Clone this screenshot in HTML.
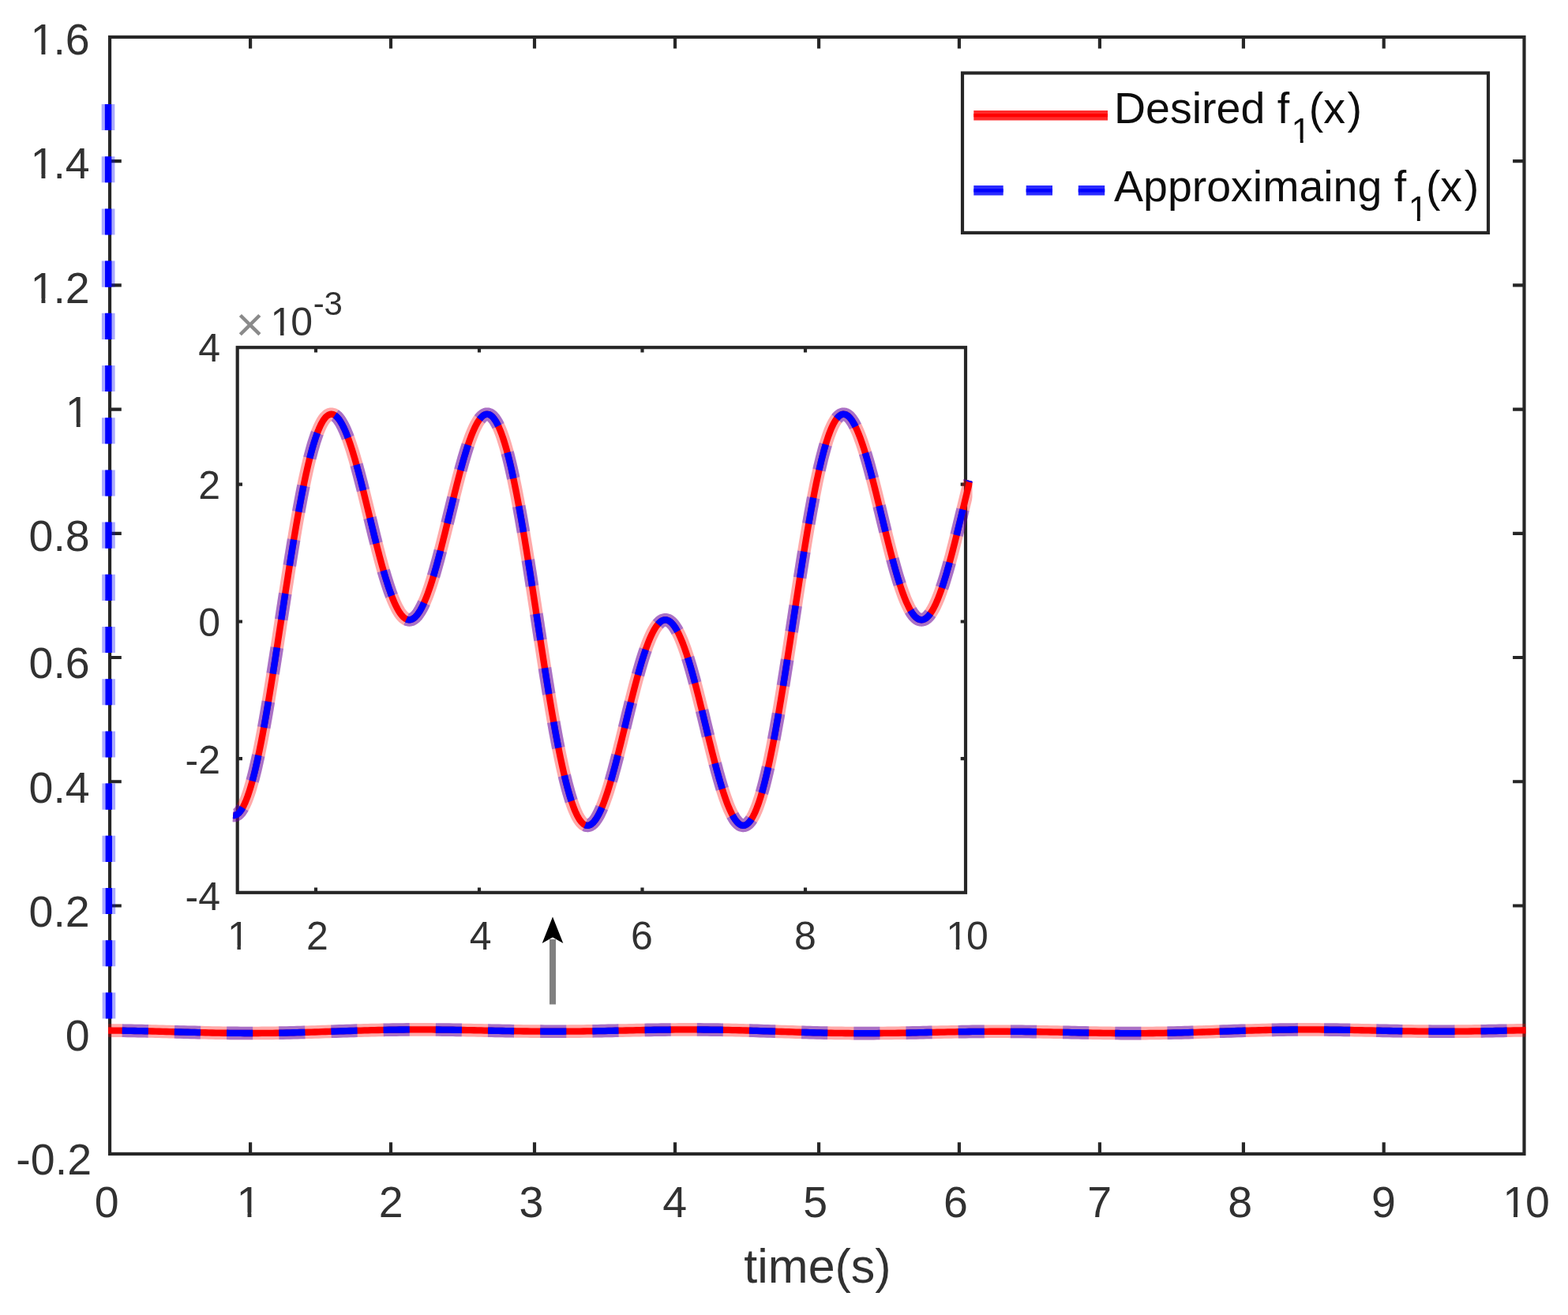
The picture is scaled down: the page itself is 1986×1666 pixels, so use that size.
<!DOCTYPE html>
<html lang="en"><head><meta charset="utf-8"><title>Desired vs approximating f1(x)</title>
<style>
html,body{margin:0;padding:0;background:#fff;overflow:hidden;}
body{width:1986px;height:1666px;overflow:hidden;}
svg{display:block;}
text{font-family:"Liberation Sans",Arial,Helvetica,sans-serif;}
.tk{font-size:55.5px;fill:#313131;}
.it{font-size:50px;fill:#313131;}
.lg{font-size:55.5px;fill:#0d0d0d;}
.xl{font-size:61px;fill:#313131;}
.c{fill:none;stroke-width:8.33;stroke-linejoin:round;}
.h{fill:none;stroke-width:16.67;stroke-linejoin:round;stroke-opacity:.333;}
</style></head><body>
<svg width="1986" height="1666" viewBox="0 0 1986 1666" role="img" aria-label="Desired and approximating f1(x) versus time">
<defs><clipPath id="ci"><rect x="294.5" y="440.2" width="937" height="690.6"/></clipPath>
<path id="pr" d="M137.15 1305.5 L143.53 1305.55 L148.01 1305.6 L152.49 1305.66 L156.96 1305.73 L161.44 1305.81 L165.92 1305.89 L170.4 1305.97 L174.88 1306.07 L179.36 1306.17 L183.84 1306.27 L188.31 1306.38 L192.79 1306.49 L197.27 1306.6 L201.75 1306.72 L206.23 1306.84 L210.71 1306.97 L215.19 1307.09 L219.67 1307.22 L224.14 1307.34 L228.62 1307.47 L233.1 1307.59 L237.58 1307.72 L242.06 1307.84 L246.54 1307.95 L251.02 1308.07 L255.49 1308.18 L259.97 1308.28 L264.45 1308.38 L268.93 1308.48 L273.41 1308.56 L277.89 1308.64 L282.37 1308.72 L286.84 1308.78 L291.32 1308.84 L295.8 1308.89 L300.28 1308.93 L304.76 1308.96 L309.24 1308.98 L313.72 1308.99 L318.2 1308.99 L322.67 1308.98 L327.15 1308.97 L331.63 1308.94 L336.11 1308.9 L340.59 1308.85 L345.07 1308.8 L349.55 1308.73 L354.02 1308.65 L358.5 1308.57 L362.98 1308.48 L367.46 1308.37 L371.94 1308.27 L376.42 1308.15 L380.9 1308.03 L385.37 1307.9 L389.85 1307.76 L394.33 1307.62 L398.81 1307.48 L403.29 1307.33 L407.77 1307.18 L412.25 1307.03 L416.72 1306.88 L421.2 1306.72 L425.68 1306.57 L430.16 1306.42 L434.64 1306.27 L439.12 1306.12 L443.6 1305.97 L448.08 1305.83 L452.55 1305.69 L457.03 1305.56 L461.51 1305.43 L465.99 1305.31 L470.47 1305.19 L474.95 1305.08 L479.43 1304.98 L483.9 1304.88 L488.38 1304.79 L492.86 1304.71 L497.34 1304.64 L501.82 1304.58 L506.3 1304.53 L510.78 1304.48 L515.25 1304.45 L519.73 1304.42 L524.21 1304.4 L528.69 1304.39 L533.17 1304.39 L537.65 1304.4 L542.13 1304.42 L546.6 1304.45 L551.08 1304.48 L555.56 1304.52 L560.04 1304.57 L564.52 1304.63 L569 1304.69 L573.48 1304.76 L577.96 1304.83 L582.43 1304.91 L586.91 1304.99 L591.39 1305.08 L595.87 1305.17 L600.35 1305.26 L604.83 1305.35 L609.31 1305.45 L613.78 1305.55 L618.26 1305.64 L622.74 1305.74 L627.22 1305.83 L631.7 1305.93 L636.18 1306.02 L640.66 1306.1 L645.13 1306.19 L649.61 1306.27 L654.09 1306.34 L658.57 1306.41 L663.05 1306.47 L667.53 1306.53 L672.01 1306.58 L676.49 1306.63 L680.96 1306.67 L685.44 1306.7 L689.92 1306.72 L694.4 1306.74 L698.88 1306.75 L703.36 1306.75 L707.84 1306.74 L712.31 1306.73 L716.79 1306.71 L721.27 1306.68 L725.75 1306.64 L730.23 1306.6 L734.71 1306.55 L739.19 1306.49 L743.66 1306.43 L748.14 1306.36 L752.62 1306.29 L757.1 1306.21 L761.58 1306.13 L766.06 1306.04 L770.54 1305.95 L775.01 1305.86 L779.49 1305.77 L783.97 1305.67 L788.45 1305.58 L792.93 1305.48 L797.41 1305.39 L801.89 1305.29 L806.37 1305.2 L810.84 1305.11 L815.32 1305.02 L819.8 1304.94 L824.28 1304.86 L828.76 1304.78 L833.24 1304.71 L837.72 1304.65 L842.19 1304.59 L846.67 1304.54 L851.15 1304.49 L855.63 1304.46 L860.11 1304.43 L864.59 1304.41 L869.07 1304.4 L873.54 1304.39 L878.02 1304.4 L882.5 1304.41 L886.98 1304.44 L891.46 1304.47 L895.94 1304.51 L900.42 1304.56 L904.89 1304.62 L909.37 1304.69 L913.85 1304.77 L918.33 1304.85 L922.81 1304.94 L927.29 1305.04 L931.77 1305.15 L936.25 1305.27 L940.72 1305.39 L945.2 1305.52 L949.68 1305.65 L954.16 1305.79 L958.64 1305.93 L963.12 1306.07 L967.6 1306.22 L972.07 1306.37 L976.55 1306.52 L981.03 1306.67 L985.51 1306.83 L989.99 1306.98 L994.47 1307.13 L998.95 1307.28 L1003.42 1307.43 L1007.9 1307.57 L1012.38 1307.72 L1016.86 1307.85 L1021.34 1307.99 L1025.82 1308.11 L1030.3 1308.23 L1034.78 1308.35 L1039.25 1308.46 L1043.73 1308.56 L1048.21 1308.65 L1052.69 1308.73 L1057.17 1308.81 L1061.65 1308.88 L1066.13 1308.94 L1070.6 1308.99 L1075.08 1309.03 L1079.56 1309.06 L1084.04 1309.09 L1088.52 1309.1 L1093 1309.11 L1097.48 1309.1 L1101.95 1309.09 L1106.43 1309.07 L1110.91 1309.04 L1115.39 1309.01 L1119.87 1308.96 L1124.35 1308.91 L1128.83 1308.85 L1133.3 1308.79 L1137.78 1308.72 L1142.26 1308.64 L1146.74 1308.56 L1151.22 1308.48 L1155.7 1308.39 L1160.18 1308.3 L1164.66 1308.21 L1169.13 1308.11 L1173.61 1308.02 L1178.09 1307.92 L1182.57 1307.83 L1187.05 1307.73 L1191.53 1307.64 L1196.01 1307.54 L1200.48 1307.46 L1204.96 1307.37 L1209.44 1307.29 L1213.92 1307.21 L1218.4 1307.14 L1222.88 1307.07 L1227.36 1307.01 L1231.83 1306.95 L1236.31 1306.9 L1240.79 1306.86 L1245.27 1306.82 L1249.75 1306.79 L1254.23 1306.77 L1258.71 1306.76 L1263.18 1306.75 L1267.66 1306.75 L1272.14 1306.76 L1276.62 1306.78 L1281.1 1306.8 L1285.58 1306.83 L1290.06 1306.87 L1294.54 1306.92 L1299.01 1306.97 L1303.49 1307.03 L1307.97 1307.09 L1312.45 1307.16 L1316.93 1307.24 L1321.41 1307.32 L1325.89 1307.4 L1330.36 1307.49 L1334.84 1307.58 L1339.32 1307.67 L1343.8 1307.76 L1348.28 1307.86 L1352.76 1307.95 L1357.24 1308.05 L1361.71 1308.15 L1366.19 1308.24 L1370.67 1308.33 L1375.15 1308.42 L1379.63 1308.51 L1384.11 1308.59 L1388.59 1308.67 L1393.06 1308.74 L1397.54 1308.81 L1402.02 1308.87 L1406.5 1308.93 L1410.98 1308.98 L1415.46 1309.02 L1419.94 1309.05 L1424.42 1309.08 L1428.89 1309.1 L1433.37 1309.11 L1437.85 1309.11 L1442.33 1309.1 L1446.81 1309.08 L1451.29 1309.05 L1455.77 1309.02 L1460.24 1308.97 L1464.72 1308.92 L1469.2 1308.86 L1473.68 1308.79 L1478.16 1308.71 L1482.64 1308.62 L1487.12 1308.52 L1491.59 1308.42 L1496.07 1308.31 L1500.55 1308.19 L1505.03 1308.07 L1509.51 1307.94 L1513.99 1307.81 L1518.47 1307.67 L1522.95 1307.53 L1527.42 1307.38 L1531.9 1307.23 L1536.38 1307.08 L1540.86 1306.93 L1545.34 1306.77 L1549.82 1306.62 L1554.3 1306.47 L1558.77 1306.32 L1563.25 1306.17 L1567.73 1306.02 L1572.21 1305.88 L1576.69 1305.74 L1581.17 1305.6 L1585.65 1305.47 L1590.12 1305.35 L1594.6 1305.23 L1599.08 1305.11 L1603.56 1305.01 L1608.04 1304.91 L1612.52 1304.82 L1617 1304.74 L1621.47 1304.66 L1625.95 1304.6 L1630.43 1304.54 L1634.91 1304.49 L1639.39 1304.46 L1643.87 1304.43 L1648.35 1304.41 L1652.83 1304.39 L1657.3 1304.39 L1661.78 1304.4 L1666.26 1304.41 L1670.74 1304.44 L1675.22 1304.47 L1679.7 1304.51 L1684.18 1304.55 L1688.65 1304.61 L1693.13 1304.67 L1697.61 1304.73 L1702.09 1304.81 L1706.57 1304.88 L1711.05 1304.96 L1715.53 1305.05 L1720 1305.14 L1724.48 1305.23 L1728.96 1305.32 L1733.44 1305.42 L1737.92 1305.51 L1742.4 1305.61 L1746.88 1305.71 L1751.36 1305.8 L1755.83 1305.9 L1760.31 1305.99 L1764.79 1306.07 L1769.27 1306.16 L1773.75 1306.24 L1778.23 1306.32 L1782.71 1306.39 L1787.18 1306.45 L1791.66 1306.51 L1796.14 1306.57 L1800.62 1306.62 L1805.1 1306.66 L1809.58 1306.69 L1814.06 1306.72 L1818.53 1306.73 L1823.01 1306.75 L1827.49 1306.75 L1831.97 1306.75 L1836.45 1306.73 L1840.93 1306.72 L1845.41 1306.69 L1849.88 1306.66 L1854.36 1306.61 L1858.84 1306.57 L1863.32 1306.51 L1867.8 1306.45 L1872.28 1306.39 L1876.76 1306.31 L1881.24 1306.24 L1885.71 1306.16 L1890.19 1306.07 L1894.67 1305.98 L1899.15 1305.89 L1903.63 1305.8 L1908.11 1305.71 L1912.59 1305.61 L1917.06 1305.51 L1921.54 1305.42 L1926.02 1305.32 L1932.5 1305.23"/>
<path id="pb" d="M137 132 L138 1306.75 L143.53 1305.55 L148.01 1305.6 L152.49 1305.66 L156.96 1305.73 L161.44 1305.81 L165.92 1305.89 L170.4 1305.97 L174.88 1306.07 L179.36 1306.17 L183.84 1306.27 L188.31 1306.38 L192.79 1306.49 L197.27 1306.6 L201.75 1306.72 L206.23 1306.84 L210.71 1306.97 L215.19 1307.09 L219.67 1307.22 L224.14 1307.34 L228.62 1307.47 L233.1 1307.59 L237.58 1307.72 L242.06 1307.84 L246.54 1307.95 L251.02 1308.07 L255.49 1308.18 L259.97 1308.28 L264.45 1308.38 L268.93 1308.48 L273.41 1308.56 L277.89 1308.64 L282.37 1308.72 L286.84 1308.78 L291.32 1308.84 L295.8 1308.89 L300.28 1308.93 L304.76 1308.96 L309.24 1308.98 L313.72 1308.99 L318.2 1308.99 L322.67 1308.98 L327.15 1308.97 L331.63 1308.94 L336.11 1308.9 L340.59 1308.85 L345.07 1308.8 L349.55 1308.73 L354.02 1308.65 L358.5 1308.57 L362.98 1308.48 L367.46 1308.37 L371.94 1308.27 L376.42 1308.15 L380.9 1308.03 L385.37 1307.9 L389.85 1307.76 L394.33 1307.62 L398.81 1307.48 L403.29 1307.33 L407.77 1307.18 L412.25 1307.03 L416.72 1306.88 L421.2 1306.72 L425.68 1306.57 L430.16 1306.42 L434.64 1306.27 L439.12 1306.12 L443.6 1305.97 L448.08 1305.83 L452.55 1305.69 L457.03 1305.56 L461.51 1305.43 L465.99 1305.31 L470.47 1305.19 L474.95 1305.08 L479.43 1304.98 L483.9 1304.88 L488.38 1304.79 L492.86 1304.71 L497.34 1304.64 L501.82 1304.58 L506.3 1304.53 L510.78 1304.48 L515.25 1304.45 L519.73 1304.42 L524.21 1304.4 L528.69 1304.39 L533.17 1304.39 L537.65 1304.4 L542.13 1304.42 L546.6 1304.45 L551.08 1304.48 L555.56 1304.52 L560.04 1304.57 L564.52 1304.63 L569 1304.69 L573.48 1304.76 L577.96 1304.83 L582.43 1304.91 L586.91 1304.99 L591.39 1305.08 L595.87 1305.17 L600.35 1305.26 L604.83 1305.35 L609.31 1305.45 L613.78 1305.55 L618.26 1305.64 L622.74 1305.74 L627.22 1305.83 L631.7 1305.93 L636.18 1306.02 L640.66 1306.1 L645.13 1306.19 L649.61 1306.27 L654.09 1306.34 L658.57 1306.41 L663.05 1306.47 L667.53 1306.53 L672.01 1306.58 L676.49 1306.63 L680.96 1306.67 L685.44 1306.7 L689.92 1306.72 L694.4 1306.74 L698.88 1306.75 L703.36 1306.75 L707.84 1306.74 L712.31 1306.73 L716.79 1306.71 L721.27 1306.68 L725.75 1306.64 L730.23 1306.6 L734.71 1306.55 L739.19 1306.49 L743.66 1306.43 L748.14 1306.36 L752.62 1306.29 L757.1 1306.21 L761.58 1306.13 L766.06 1306.04 L770.54 1305.95 L775.01 1305.86 L779.49 1305.77 L783.97 1305.67 L788.45 1305.58 L792.93 1305.48 L797.41 1305.39 L801.89 1305.29 L806.37 1305.2 L810.84 1305.11 L815.32 1305.02 L819.8 1304.94 L824.28 1304.86 L828.76 1304.78 L833.24 1304.71 L837.72 1304.65 L842.19 1304.59 L846.67 1304.54 L851.15 1304.49 L855.63 1304.46 L860.11 1304.43 L864.59 1304.41 L869.07 1304.4 L873.54 1304.39 L878.02 1304.4 L882.5 1304.41 L886.98 1304.44 L891.46 1304.47 L895.94 1304.51 L900.42 1304.56 L904.89 1304.62 L909.37 1304.69 L913.85 1304.77 L918.33 1304.85 L922.81 1304.94 L927.29 1305.04 L931.77 1305.15 L936.25 1305.27 L940.72 1305.39 L945.2 1305.52 L949.68 1305.65 L954.16 1305.79 L958.64 1305.93 L963.12 1306.07 L967.6 1306.22 L972.07 1306.37 L976.55 1306.52 L981.03 1306.67 L985.51 1306.83 L989.99 1306.98 L994.47 1307.13 L998.95 1307.28 L1003.42 1307.43 L1007.9 1307.57 L1012.38 1307.72 L1016.86 1307.85 L1021.34 1307.99 L1025.82 1308.11 L1030.3 1308.23 L1034.78 1308.35 L1039.25 1308.46 L1043.73 1308.56 L1048.21 1308.65 L1052.69 1308.73 L1057.17 1308.81 L1061.65 1308.88 L1066.13 1308.94 L1070.6 1308.99 L1075.08 1309.03 L1079.56 1309.06 L1084.04 1309.09 L1088.52 1309.1 L1093 1309.11 L1097.48 1309.1 L1101.95 1309.09 L1106.43 1309.07 L1110.91 1309.04 L1115.39 1309.01 L1119.87 1308.96 L1124.35 1308.91 L1128.83 1308.85 L1133.3 1308.79 L1137.78 1308.72 L1142.26 1308.64 L1146.74 1308.56 L1151.22 1308.48 L1155.7 1308.39 L1160.18 1308.3 L1164.66 1308.21 L1169.13 1308.11 L1173.61 1308.02 L1178.09 1307.92 L1182.57 1307.83 L1187.05 1307.73 L1191.53 1307.64 L1196.01 1307.54 L1200.48 1307.46 L1204.96 1307.37 L1209.44 1307.29 L1213.92 1307.21 L1218.4 1307.14 L1222.88 1307.07 L1227.36 1307.01 L1231.83 1306.95 L1236.31 1306.9 L1240.79 1306.86 L1245.27 1306.82 L1249.75 1306.79 L1254.23 1306.77 L1258.71 1306.76 L1263.18 1306.75 L1267.66 1306.75 L1272.14 1306.76 L1276.62 1306.78 L1281.1 1306.8 L1285.58 1306.83 L1290.06 1306.87 L1294.54 1306.92 L1299.01 1306.97 L1303.49 1307.03 L1307.97 1307.09 L1312.45 1307.16 L1316.93 1307.24 L1321.41 1307.32 L1325.89 1307.4 L1330.36 1307.49 L1334.84 1307.58 L1339.32 1307.67 L1343.8 1307.76 L1348.28 1307.86 L1352.76 1307.95 L1357.24 1308.05 L1361.71 1308.15 L1366.19 1308.24 L1370.67 1308.33 L1375.15 1308.42 L1379.63 1308.51 L1384.11 1308.59 L1388.59 1308.67 L1393.06 1308.74 L1397.54 1308.81 L1402.02 1308.87 L1406.5 1308.93 L1410.98 1308.98 L1415.46 1309.02 L1419.94 1309.05 L1424.42 1309.08 L1428.89 1309.1 L1433.37 1309.11 L1437.85 1309.11 L1442.33 1309.1 L1446.81 1309.08 L1451.29 1309.05 L1455.77 1309.02 L1460.24 1308.97 L1464.72 1308.92 L1469.2 1308.86 L1473.68 1308.79 L1478.16 1308.71 L1482.64 1308.62 L1487.12 1308.52 L1491.59 1308.42 L1496.07 1308.31 L1500.55 1308.19 L1505.03 1308.07 L1509.51 1307.94 L1513.99 1307.81 L1518.47 1307.67 L1522.95 1307.53 L1527.42 1307.38 L1531.9 1307.23 L1536.38 1307.08 L1540.86 1306.93 L1545.34 1306.77 L1549.82 1306.62 L1554.3 1306.47 L1558.77 1306.32 L1563.25 1306.17 L1567.73 1306.02 L1572.21 1305.88 L1576.69 1305.74 L1581.17 1305.6 L1585.65 1305.47 L1590.12 1305.35 L1594.6 1305.23 L1599.08 1305.11 L1603.56 1305.01 L1608.04 1304.91 L1612.52 1304.82 L1617 1304.74 L1621.47 1304.66 L1625.95 1304.6 L1630.43 1304.54 L1634.91 1304.49 L1639.39 1304.46 L1643.87 1304.43 L1648.35 1304.41 L1652.83 1304.39 L1657.3 1304.39 L1661.78 1304.4 L1666.26 1304.41 L1670.74 1304.44 L1675.22 1304.47 L1679.7 1304.51 L1684.18 1304.55 L1688.65 1304.61 L1693.13 1304.67 L1697.61 1304.73 L1702.09 1304.81 L1706.57 1304.88 L1711.05 1304.96 L1715.53 1305.05 L1720 1305.14 L1724.48 1305.23 L1728.96 1305.32 L1733.44 1305.42 L1737.92 1305.51 L1742.4 1305.61 L1746.88 1305.71 L1751.36 1305.8 L1755.83 1305.9 L1760.31 1305.99 L1764.79 1306.07 L1769.27 1306.16 L1773.75 1306.24 L1778.23 1306.32 L1782.71 1306.39 L1787.18 1306.45 L1791.66 1306.51 L1796.14 1306.57 L1800.62 1306.62 L1805.1 1306.66 L1809.58 1306.69 L1814.06 1306.72 L1818.53 1306.73 L1823.01 1306.75 L1827.49 1306.75 L1831.97 1306.75 L1836.45 1306.73 L1840.93 1306.72 L1845.41 1306.69 L1849.88 1306.66 L1854.36 1306.61 L1858.84 1306.57 L1863.32 1306.51 L1867.8 1306.45 L1872.28 1306.39 L1876.76 1306.31 L1881.24 1306.24 L1885.71 1306.16 L1890.19 1306.07 L1894.67 1305.98 L1899.15 1305.89 L1903.63 1305.8 L1908.11 1305.71 L1912.59 1305.61 L1917.06 1305.51 L1921.54 1305.42 L1926.02 1305.32 L1932.5 1305.23"/>
<path id="pi" d="M295.19 1032.92 L296.22 1033.04 L297.26 1032.98 L298.3 1032.75 L299.33 1032.34 L300.37 1031.76 L301.41 1030.99 L302.44 1030.06 L303.48 1028.94 L304.52 1027.65 L305.56 1026.18 L306.59 1024.54 L307.63 1022.72 L308.67 1020.73 L309.7 1018.57 L310.74 1016.24 L311.78 1013.73 L312.82 1011.06 L313.85 1008.22 L314.89 1005.21 L315.93 1002.04 L316.96 998.71 L318 995.21 L319.04 991.56 L320.08 987.75 L321.11 983.79 L322.15 979.68 L323.19 975.42 L324.22 971.02 L325.26 966.47 L326.3 961.78 L327.33 956.96 L328.37 952.01 L329.41 946.92 L330.45 941.71 L331.48 936.37 L332.52 930.92 L333.56 925.35 L334.59 919.66 L335.63 913.87 L336.67 907.98 L337.71 901.98 L338.74 895.89 L339.78 889.72 L340.82 883.48 L341.85 877.16 L342.89 870.78 L343.93 864.34 L344.97 857.85 L346 851.3 L347.04 844.71 L348.08 838.08 L349.11 831.41 L350.15 824.7 L351.19 817.97 L352.22 811.22 L353.26 804.44 L354.3 797.66 L355.34 790.86 L356.37 784.06 L357.41 777.27 L358.45 770.47 L359.48 763.69 L360.52 756.92 L361.56 750.18 L362.6 743.46 L363.63 736.76 L364.67 730.11 L365.71 723.49 L366.74 716.91 L367.78 710.38 L368.82 703.91 L369.86 697.49 L370.89 691.14 L371.93 684.85 L372.97 678.63 L374 672.48 L375.04 666.42 L376.08 660.43 L377.12 654.54 L378.15 648.73 L379.19 643.03 L380.23 637.42 L381.26 631.91 L382.3 626.51 L383.34 621.22 L384.37 616.04 L385.41 610.98 L386.45 606.04 L387.49 601.22 L388.52 596.53 L389.56 591.97 L390.6 587.54 L391.63 583.25 L392.67 579.09 L393.71 575.07 L394.75 571.2 L395.78 567.47 L396.82 563.89 L397.86 560.45 L398.89 557.17 L399.93 554.04 L400.97 551.06 L402.01 548.24 L403.04 545.57 L404.08 543.06 L405.12 540.71 L406.15 538.52 L407.19 536.49 L408.23 534.62 L409.26 532.92 L410.3 531.37 L411.34 529.99 L412.38 528.77 L413.41 527.71 L414.45 526.82 L415.49 526.08 L416.52 525.51 L417.56 525.1 L418.6 524.84 L419.64 524.75 L420.67 524.81 L421.71 525.04 L422.75 525.41 L423.78 525.94 L424.82 526.62 L425.86 527.46 L426.9 528.44 L427.93 529.57 L428.97 530.84 L430.01 532.25 L431.04 533.81 L432.08 535.5 L433.12 537.33 L434.15 539.29 L435.19 541.38 L436.23 543.6 L437.27 545.94 L438.3 548.41 L439.34 550.99 L440.38 553.68 L441.41 556.49 L442.45 559.4 L443.49 562.42 L444.53 565.53 L445.56 568.74 L446.6 572.05 L447.64 575.44 L448.67 578.92 L449.71 582.48 L450.75 586.12 L451.79 589.83 L452.82 593.61 L453.86 597.45 L454.9 601.35 L455.93 605.31 L456.97 609.31 L458.01 613.37 L459.05 617.46 L460.08 621.6 L461.12 625.77 L462.16 629.96 L463.19 634.18 L464.23 638.42 L465.27 642.68 L466.3 646.94 L467.34 651.22 L468.38 655.49 L469.42 659.76 L470.45 664.02 L471.49 668.27 L472.53 672.51 L473.56 676.72 L474.6 680.91 L475.64 685.07 L476.68 689.19 L477.71 693.28 L478.75 697.32 L479.79 701.32 L480.82 705.26 L481.86 709.16 L482.9 712.99 L483.94 716.76 L484.97 720.46 L486.01 724.09 L487.05 727.65 L488.08 731.13 L489.12 734.52 L490.16 737.84 L491.19 741.06 L492.23 744.19 L493.27 747.23 L494.31 750.17 L495.34 753.01 L496.38 755.74 L497.42 758.37 L498.45 760.89 L499.49 763.29 L500.53 765.59 L501.57 767.76 L502.6 769.82 L503.64 771.76 L504.68 773.57 L505.71 775.26 L506.75 776.82 L507.79 778.25 L508.83 779.56 L509.86 780.73 L510.9 781.77 L511.94 782.68 L512.97 783.46 L514.01 784.1 L515.05 784.6 L516.08 784.97 L517.12 785.2 L518.16 785.3 L519.2 785.26 L520.23 785.08 L521.27 784.77 L522.31 784.32 L523.34 783.73 L524.38 783.01 L525.42 782.16 L526.46 781.17 L527.49 780.05 L528.53 778.8 L529.57 777.42 L530.6 775.91 L531.64 774.27 L532.68 772.51 L533.72 770.62 L534.75 768.61 L535.79 766.48 L536.83 764.24 L537.86 761.88 L538.9 759.4 L539.94 756.82 L540.98 754.13 L542.01 751.33 L543.05 748.43 L544.09 745.44 L545.12 742.34 L546.16 739.15 L547.2 735.88 L548.23 732.51 L549.27 729.07 L550.31 725.54 L551.35 721.94 L552.38 718.27 L553.42 714.52 L554.46 710.72 L555.49 706.85 L556.53 702.93 L557.57 698.95 L558.61 694.92 L559.64 690.85 L560.68 686.75 L561.72 682.6 L562.75 678.42 L563.79 674.22 L564.83 669.99 L565.87 665.75 L566.9 661.49 L567.94 657.22 L568.98 652.95 L570.01 648.68 L571.05 644.41 L572.09 640.15 L573.12 635.9 L574.16 631.67 L575.2 627.47 L576.24 623.29 L577.27 619.14 L578.31 615.02 L579.35 610.95 L580.38 606.93 L581.42 602.95 L582.46 599.02 L583.5 595.16 L584.53 591.35 L585.57 587.62 L586.61 583.95 L587.64 580.36 L588.68 576.85 L589.72 573.42 L590.76 570.07 L591.79 566.82 L592.83 563.67 L593.87 560.61 L594.9 557.65 L595.94 554.81 L596.98 552.07 L598.01 549.44 L599.05 546.93 L600.09 544.54 L601.13 542.27 L602.16 540.13 L603.2 538.11 L604.24 536.23 L605.27 534.48 L606.31 532.87 L607.35 531.4 L608.39 530.06 L609.42 528.88 L610.46 527.84 L611.5 526.94 L612.53 526.2 L613.57 525.61 L614.61 525.17 L615.65 524.89 L616.68 524.76 L617.72 524.79 L618.76 524.98 L619.79 525.32 L620.83 525.83 L621.87 526.5 L622.91 527.33 L623.94 528.32 L624.98 529.48 L626.02 530.79 L627.05 532.27 L628.09 533.91 L629.13 535.71 L630.16 537.68 L631.2 539.8 L632.24 542.09 L633.28 544.53 L634.31 547.13 L635.35 549.89 L636.39 552.81 L637.42 555.88 L638.46 559.1 L639.5 562.48 L640.54 566 L641.57 569.67 L642.61 573.49 L643.65 577.44 L644.68 581.54 L645.72 585.78 L646.76 590.16 L647.8 594.67 L648.83 599.3 L649.87 604.07 L650.91 608.96 L651.94 613.97 L652.98 619.1 L654.02 624.35 L655.05 629.71 L656.09 635.17 L657.13 640.74 L658.17 646.41 L659.2 652.17 L660.24 658.03 L661.28 663.98 L662.31 670.01 L663.35 676.12 L664.39 682.31 L665.43 688.58 L666.46 694.91 L667.5 701.3 L668.54 707.75 L669.57 714.26 L670.61 720.81 L671.65 727.42 L672.69 734.06 L673.72 740.74 L674.76 747.45 L675.8 754.19 L676.83 760.94 L677.87 767.72 L678.91 774.51 L679.94 781.31 L680.98 788.11 L682.02 794.9 L683.06 801.69 L684.09 808.47 L685.13 815.23 L686.17 821.98 L687.2 828.69 L688.24 835.38 L689.28 842.03 L690.32 848.63 L691.35 855.2 L692.39 861.72 L693.43 868.18 L694.46 874.58 L695.5 880.92 L696.54 887.2 L697.58 893.4 L698.61 899.53 L699.65 905.57 L700.69 911.53 L701.72 917.41 L702.76 923.19 L703.8 928.88 L704.84 934.46 L705.87 939.95 L706.91 945.32 L707.95 950.59 L708.98 955.74 L710.02 960.77 L711.06 965.68 L712.09 970.47 L713.13 975.13 L714.17 979.66 L715.21 984.06 L716.24 988.32 L717.28 992.45 L718.32 996.43 L719.35 1000.27 L720.39 1003.97 L721.43 1007.52 L722.47 1010.92 L723.5 1014.17 L724.54 1017.27 L725.58 1020.21 L726.61 1022.99 L727.65 1025.62 L728.69 1028.1 L729.73 1030.41 L730.76 1032.56 L731.8 1034.55 L732.84 1036.38 L733.87 1038.05 L734.91 1039.56 L735.95 1040.91 L736.98 1042.09 L738.02 1043.11 L739.06 1043.97 L740.1 1044.66 L741.13 1045.2 L742.17 1045.58 L743.21 1045.79 L744.24 1045.85 L745.28 1045.75 L746.32 1045.49 L747.36 1045.08 L748.39 1044.52 L749.43 1043.8 L750.47 1042.93 L751.5 1041.92 L752.54 1040.75 L753.58 1039.45 L754.62 1038 L755.65 1036.41 L756.69 1034.69 L757.73 1032.83 L758.76 1030.84 L759.8 1028.71 L760.84 1026.47 L761.88 1024.1 L762.91 1021.61 L763.95 1019 L764.99 1016.28 L766.02 1013.45 L767.06 1010.51 L768.1 1007.47 L769.13 1004.33 L770.17 1001.1 L771.21 997.77 L772.25 994.36 L773.28 990.86 L774.32 987.28 L775.36 983.63 L776.39 979.9 L777.43 976.11 L778.47 972.26 L779.51 968.34 L780.54 964.37 L781.58 960.35 L782.62 956.29 L783.65 952.18 L784.69 948.04 L785.73 943.87 L786.77 939.66 L787.8 935.44 L788.84 931.2 L789.88 926.94 L790.91 922.67 L791.95 918.4 L792.99 914.12 L794.02 909.85 L795.06 905.59 L796.1 901.35 L797.14 897.12 L798.17 892.91 L799.21 888.73 L800.25 884.58 L801.28 880.46 L802.32 876.38 L803.36 872.35 L804.4 868.37 L805.43 864.43 L806.47 860.55 L807.51 856.74 L808.54 852.98 L809.58 849.3 L810.62 845.68 L811.66 842.14 L812.69 838.68 L813.73 835.3 L814.77 832.01 L815.8 828.81 L816.84 825.7 L817.88 822.68 L818.91 819.77 L819.95 816.95 L820.99 814.24 L822.03 811.64 L823.06 809.15 L824.1 806.77 L825.14 804.5 L826.17 802.35 L827.21 800.32 L828.25 798.41 L829.29 796.63 L830.32 794.97 L831.36 793.44 L832.4 792.03 L833.43 790.76 L834.47 789.62 L835.51 788.61 L836.55 787.73 L837.58 786.98 L838.62 786.38 L839.66 785.9 L840.69 785.57 L841.73 785.36 L842.77 785.3 L843.81 785.37 L844.84 785.58 L845.88 785.93 L846.92 786.41 L847.95 787.02 L848.99 787.77 L850.03 788.66 L851.06 789.68 L852.1 790.83 L853.14 792.11 L854.18 793.52 L855.21 795.06 L856.25 796.73 L857.29 798.52 L858.32 800.43 L859.36 802.47 L860.4 804.62 L861.44 806.9 L862.47 809.28 L863.51 811.78 L864.55 814.39 L865.58 817.11 L866.62 819.93 L867.66 822.85 L868.7 825.87 L869.73 828.99 L870.77 832.19 L871.81 835.49 L872.84 838.87 L873.88 842.34 L874.92 845.88 L875.95 849.5 L876.99 853.19 L878.03 856.95 L879.07 860.77 L880.1 864.65 L881.14 868.59 L882.18 872.58 L883.21 876.61 L884.25 880.69 L885.29 884.81 L886.33 888.96 L887.36 893.14 L888.4 897.35 L889.44 901.58 L890.47 905.83 L891.51 910.09 L892.55 914.36 L893.59 918.64 L894.62 922.91 L895.66 927.18 L896.7 931.43 L897.73 935.68 L898.77 939.9 L899.81 944.1 L900.84 948.27 L901.88 952.42 L902.92 956.52 L903.96 960.58 L904.99 964.6 L906.03 968.56 L907.07 972.47 L908.1 976.33 L909.14 980.12 L910.18 983.84 L911.22 987.49 L912.25 991.06 L913.29 994.55 L914.33 997.96 L915.36 1001.28 L916.4 1004.51 L917.44 1007.65 L918.48 1010.68 L919.51 1013.61 L920.55 1016.44 L921.59 1019.15 L922.62 1021.75 L923.66 1024.23 L924.7 1026.6 L925.74 1028.84 L926.77 1030.95 L927.81 1032.93 L928.85 1034.79 L929.88 1036.5 L930.92 1038.08 L931.96 1039.52 L932.99 1040.82 L934.03 1041.98 L935.07 1042.98 L936.11 1043.84 L937.14 1044.55 L938.18 1045.11 L939.22 1045.51 L940.25 1045.76 L941.29 1045.85 L942.33 1045.78 L943.37 1045.56 L944.4 1045.17 L945.44 1044.63 L946.48 1043.92 L947.51 1043.06 L948.55 1042.03 L949.59 1040.83 L950.63 1039.48 L951.66 1037.96 L952.7 1036.29 L953.74 1034.45 L954.77 1032.45 L955.81 1030.28 L956.85 1027.96 L957.88 1025.48 L958.92 1022.84 L959.96 1020.05 L961 1017.1 L962.03 1013.99 L963.07 1010.73 L964.11 1007.32 L965.14 1003.77 L966.18 1000.06 L967.22 996.21 L968.26 992.22 L969.29 988.09 L970.33 983.82 L971.37 979.41 L972.4 974.87 L973.44 970.21 L974.48 965.41 L975.52 960.49 L976.55 955.45 L977.59 950.3 L978.63 945.02 L979.66 939.64 L980.7 934.15 L981.74 928.56 L982.77 922.87 L983.81 917.08 L984.85 911.2 L985.89 905.24 L986.92 899.18 L987.96 893.05 L989 886.85 L990.03 880.57 L991.07 874.22 L992.11 867.82 L993.15 861.35 L994.18 854.83 L995.22 848.27 L996.26 841.65 L997.29 835 L998.33 828.32 L999.37 821.6 L1000.41 814.86 L1001.44 808.09 L1002.48 801.31 L1003.52 794.52 L1004.55 787.72 L1005.59 780.93 L1006.63 774.13 L1007.67 767.34 L1008.7 760.57 L1009.74 753.81 L1010.78 747.07 L1011.81 740.36 L1012.85 733.69 L1013.89 727.05 L1014.92 720.45 L1015.96 713.89 L1017 707.39 L1018.04 700.94 L1019.07 694.55 L1020.11 688.22 L1021.15 681.97 L1022.18 675.78 L1023.22 669.67 L1024.26 663.64 L1025.3 657.7 L1026.33 651.85 L1027.37 646.09 L1028.41 640.42 L1029.44 634.86 L1030.48 629.4 L1031.52 624.05 L1032.56 618.81 L1033.59 613.69 L1034.63 608.68 L1035.67 603.8 L1036.7 599.04 L1037.74 594.41 L1038.78 589.91 L1039.81 585.54 L1040.85 581.31 L1041.89 577.22 L1042.93 573.27 L1043.96 569.46 L1045 565.8 L1046.04 562.28 L1047.07 558.92 L1048.11 555.7 L1049.15 552.64 L1050.19 549.74 L1051.22 546.98 L1052.26 544.39 L1053.3 541.96 L1054.33 539.68 L1055.37 537.56 L1056.41 535.61 L1057.45 533.82 L1058.48 532.18 L1059.52 530.71 L1060.56 529.41 L1061.59 528.26 L1062.63 527.28 L1063.67 526.46 L1064.7 525.8 L1065.74 525.3 L1066.78 524.96 L1067.82 524.78 L1068.85 524.76 L1069.89 524.9 L1070.93 525.19 L1071.96 525.64 L1073 526.24 L1074.04 526.99 L1075.08 527.89 L1076.11 528.94 L1077.15 530.14 L1078.19 531.47 L1079.22 532.95 L1080.26 534.57 L1081.3 536.33 L1082.34 538.22 L1083.37 540.24 L1084.41 542.39 L1085.45 544.67 L1086.48 547.07 L1087.52 549.58 L1088.56 552.22 L1089.6 554.96 L1090.63 557.82 L1091.67 560.78 L1092.71 563.84 L1093.74 567 L1094.78 570.26 L1095.82 573.61 L1096.85 577.04 L1097.89 580.56 L1098.93 584.15 L1099.97 587.82 L1101 591.56 L1102.04 595.37 L1103.08 599.24 L1104.11 603.17 L1105.15 607.15 L1106.19 611.18 L1107.23 615.25 L1108.26 619.37 L1109.3 623.52 L1110.34 627.7 L1111.37 631.91 L1112.41 636.14 L1113.45 640.39 L1114.49 644.65 L1115.52 648.92 L1116.56 653.19 L1117.6 657.46 L1118.63 661.73 L1119.67 665.99 L1120.71 670.23 L1121.74 674.46 L1122.78 678.66 L1123.82 682.83 L1124.86 686.98 L1125.89 691.08 L1126.93 695.15 L1127.97 699.17 L1129 703.15 L1130.04 707.07 L1131.08 710.93 L1132.12 714.74 L1133.15 718.47 L1134.19 722.14 L1135.23 725.74 L1136.26 729.26 L1137.3 732.7 L1138.34 736.06 L1139.38 739.33 L1140.41 742.52 L1141.45 745.61 L1142.49 748.6 L1143.52 751.49 L1144.56 754.28 L1145.6 756.97 L1146.63 759.55 L1147.67 762.01 L1148.71 764.37 L1149.75 766.61 L1150.78 768.73 L1151.82 770.73 L1152.86 772.61 L1153.89 774.36 L1154.93 775.99 L1155.97 777.5 L1157.01 778.87 L1158.04 780.12 L1159.08 781.23 L1160.12 782.21 L1161.15 783.06 L1162.19 783.77 L1163.23 784.35 L1164.27 784.79 L1165.3 785.09 L1166.34 785.26 L1167.38 785.3 L1168.41 785.19 L1169.45 784.95 L1170.49 784.58 L1171.53 784.06 L1172.56 783.42 L1173.6 782.63 L1174.64 781.72 L1175.67 780.67 L1176.71 779.49 L1177.75 778.18 L1178.78 776.73 L1179.82 775.17 L1180.86 773.47 L1181.9 771.65 L1182.93 769.71 L1183.97 767.64 L1185.01 765.46 L1186.04 763.16 L1187.08 760.75 L1188.12 758.23 L1189.16 755.59 L1190.19 752.85 L1191.23 750.01 L1192.27 747.06 L1193.3 744.02 L1194.34 740.88 L1195.38 737.65 L1196.42 734.33 L1197.45 730.93 L1198.49 727.45 L1199.53 723.89 L1200.56 720.25 L1201.6 716.55 L1202.64 712.77 L1203.67 708.94 L1204.71 705.04 L1205.75 701.1 L1206.79 697.1 L1207.82 693.05 L1208.86 688.96 L1209.9 684.84 L1210.93 680.68 L1211.97 676.49 L1213.01 672.27 L1214.05 668.04 L1215.08 663.78 L1216.12 659.52 L1217.16 655.25 L1218.19 650.98 L1219.23 646.71 L1220.27 642.44 L1221.31 638.19 L1222.34 633.95 L1223.38 629.73 L1224.42 625.53 L1225.45 621.37 L1226.49 617.23 L1227.53 613.14 L1228.57 609.09"/>
</defs>
<rect x="0" y="0" width="1986" height="1666" fill="#fff"/>
<g stroke="#262626" stroke-width="4.17" fill="none">
<rect x="139.05" y="46.95" width="1791.45" height="1414.95"/>
<path d="M317.1 1461.9 V1447.2 M317.1 46.95 V61.6 M495 1461.9 V1447.2 M495 46.95 V61.6 M677 1461.9 V1447.2 M677 46.95 V61.6 M855 1461.9 V1447.2 M855 46.95 V61.6 M1037.1 1461.9 V1447.2 M1037.1 46.95 V61.6 M1214.9 1461.9 V1447.2 M1214.9 46.95 V61.6 M1392.9 1461.9 V1447.2 M1392.9 46.95 V61.6 M1574.9 1461.9 V1447.2 M1574.9 46.95 V61.6 M1752.7 1461.9 V1447.2 M1752.7 46.95 V61.6 M139.05 204.17 H153.8 M1930.5 204.17 H1916.1 M139.05 361.38 H153.8 M1930.5 361.38 H1916.1 M139.05 518.6 H153.8 M1930.5 518.6 H1916.1 M139.05 675.82 H153.8 M1930.5 675.82 H1916.1 M139.05 833.03 H153.8 M1930.5 833.03 H1916.1 M139.05 990.25 H153.8 M1930.5 990.25 H1916.1 M139.05 1147.47 H153.8 M1930.5 1147.47 H1916.1 M139.05 1304.68 H153.8 M1930.5 1304.68 H1916.1"/>
</g>
<use href="#pr" class="h" stroke="#ff0000"/>
<use href="#pr" class="c" stroke="#ff0000"/>
<use href="#pb" class="h" stroke="#0000ff" stroke-dasharray="33.1 33.1"/>
<use href="#pb" class="c" stroke="#0000ff" stroke-dasharray="33.1 33.1"/>
<g class="tk" text-anchor="middle">
<text x="135.3" y="1541.6">0</text>
<text x="315" y="1541.6">1</text>
<text x="495.2" y="1541.6">2</text>
<text x="672.9" y="1541.6">3</text>
<text x="854.8" y="1541.6">4</text>
<text x="1032.8" y="1541.6">5</text>
<text x="1210.5" y="1541.6">6</text>
<text x="1392.7" y="1541.6">7</text>
<text x="1570.7" y="1541.6">8</text>
<text x="1752.5" y="1541.6">9</text>
<text x="1931" y="1541.6"><tspan dx="2">1</tspan><tspan dx="-2">0</tspan></text>
</g>
<g class="tk" text-anchor="end">
<text x="111.7" y="69.25"><tspan dx="2">1</tspan><tspan dx="-2">.6</tspan></text>
<text x="111.7" y="226.47"><tspan dx="2">1</tspan><tspan dx="-2">.4</tspan></text>
<text x="111.7" y="383.68"><tspan dx="2">1</tspan><tspan dx="-2">.2</tspan></text>
<text x="113.7" y="540.9">1</text>
<text x="113.7" y="698.12">0.8</text>
<text x="113.7" y="859.43">0.6</text>
<text x="113.7" y="1016.65">0.4</text>
<text x="113.7" y="1173.87">0.2</text>
<text x="113.7" y="1331.08">0</text>
<text x="116" y="1488.3">-0.2</text>
</g>
<text class="xl" text-anchor="middle" x="1035.5" y="1625">time(s)</text>
<rect x="1219" y="92.5" width="666" height="202.4" fill="#fff" stroke="#262626" stroke-width="4.17"/>
<path d="M1233.3 146.2 H1403" stroke="#ff0000" stroke-width="12.5" stroke-opacity=".833" fill="none"/>
<path d="M1233.3 146.2 H1403" stroke="#ff0000" stroke-width="4.17" fill="none"/>
<path d="M1233.3 241.3 H1270.7 M1299.7 241.3 H1333 M1365.8 241.3 H1399.2" stroke="#0000ff" stroke-width="12.5" stroke-opacity=".833" fill="none"/>
<path d="M1233.3 241.3 H1270.7 M1299.7 241.3 H1333 M1365.8 241.3 H1399.2" stroke="#0000ff" stroke-width="4.17" fill="none"/>
<text class="lg" x="1411" y="156.4">Desired f<tspan dy="24.6" dx="2.5" font-size="44.4px">1</tspan><tspan dy="-24.6" dx="-2.5">(x</tspan><tspan dx="2.5">)</tspan></text>
<text class="lg" x="1411" y="255.4">Approximaing f<tspan dy="24.6" dx="2.5" font-size="44.4px">1</tspan><tspan dy="-24.6" dx="-2.5">(x</tspan><tspan dx="2.5">)</tspan></text>
<g stroke="#262626" stroke-width="4.17" fill="none">
<rect x="300.7" y="440.2" width="922.3" height="690.6"/>
<path d="M400 1130.8 V1124.6 M400 440.2 V446.5 M607 1130.8 V1124.6 M607 440.2 V446.5 M813.5 1130.8 V1124.6 M813.5 440.2 V446.5 M1020 1130.8 V1124.6 M1020 440.2 V446.5 M300.7 613.6 H307 M1223 613.6 H1216.7 M300.7 787.5 H307 M1223 787.5 H1216.7 M300.7 961.2 H307 M1223 961.2 H1216.7"/>
</g>
<g clip-path="url(#ci)">
<use href="#pi" class="h" stroke="#ff0000"/>
<use href="#pi" class="c" stroke="#ff0000"/>
<use href="#pi" class="h" stroke="#0000ff" stroke-dasharray="33.5 35.75" stroke-dashoffset="16.75"/>
<use href="#pi" class="c" stroke="#0000ff" stroke-dasharray="33.5 35.75" stroke-dashoffset="16.75"/>
</g>
<g class="it" text-anchor="middle">
<text x="301.8" y="1203">1</text>
<text x="402" y="1203">2</text>
<text x="608.7" y="1203">4</text>
<text x="813" y="1203">6</text>
<text x="1020" y="1203">8</text>
<text x="1223" y="1203"><tspan dx="2">1</tspan><tspan dx="-2">0</tspan></text>
</g>
<g class="it" text-anchor="end">
<text x="279" y="458">4</text>
<text x="279" y="632">2</text>
<text x="279" y="806">0</text>
<text x="279" y="980">-2</text>
<text x="279" y="1153">-4</text>
</g>
<text class="it" x="298.5" y="432.3" style="font-size:62px;fill:#8a8a8a">×</text>
<text class="it" x="340.5" y="425.3"><tspan dx="2">1</tspan><tspan dx="-2">0</tspan><tspan dy="-26.5" dx="0.5" font-size="42px">-3</tspan></text>
<path d="M700 1272.5 V1190" stroke="#808080" stroke-width="8" fill="none"/>
<path d="M700 1161.5 L713.3 1195 L700 1187.5 L686.7 1195 Z" fill="#000"/>
<path fill="#fff" d="M302.59 1536.15H313.52V1542.8H302.59Z M318.42 1536.15H328.92V1542.8H318.42Z"/>
<path fill="#fff" d="M1906.15 1536.15H1917.08V1542.8H1906.15Z M1921.99 1536.15H1932.48V1542.8H1921.99Z"/>
<path fill="#fff" d="M41.56 63.8H52.48V70.45H41.56Z M57.39 63.8H67.88V70.45H57.39Z"/>
<path fill="#fff" d="M41.56 221.02H52.48V227.67H41.56Z M57.39 221.02H67.88V227.67H57.39Z"/>
<path fill="#fff" d="M41.56 378.23H52.48V384.88H41.56Z M57.39 378.23H67.88V384.88H57.39Z"/>
<path fill="#fff" d="M85.85 535.45H96.78V542.1H85.85Z M101.69 535.45H112.18V542.1H101.69Z"/>
<path fill="#fff" d="M1637.78 176.38H1646.76V182.2H1637.78Z M1650.68 176.38H1659.32V182.2H1650.68Z"/>
<path fill="#fff" d="M1785.87 275.38H1794.85V281.2H1785.87Z M1798.78 275.38H1807.41V281.2H1798.78Z"/>
<path fill="#fff" d="M290.5 1197.96H300.47V1204.2H290.5Z M304.89 1197.96H314.46V1204.2H304.89Z"/>
<path fill="#fff" d="M1200.8 1197.96H1210.76V1204.2H1200.8Z M1215.18 1197.96H1224.75V1204.2H1215.18Z"/>
<path fill="#fff" d="M345.11 420.26H355.07V426.5H345.11Z M359.49 420.26H369.07V426.5H359.49Z"/>
</svg>
</body></html>
